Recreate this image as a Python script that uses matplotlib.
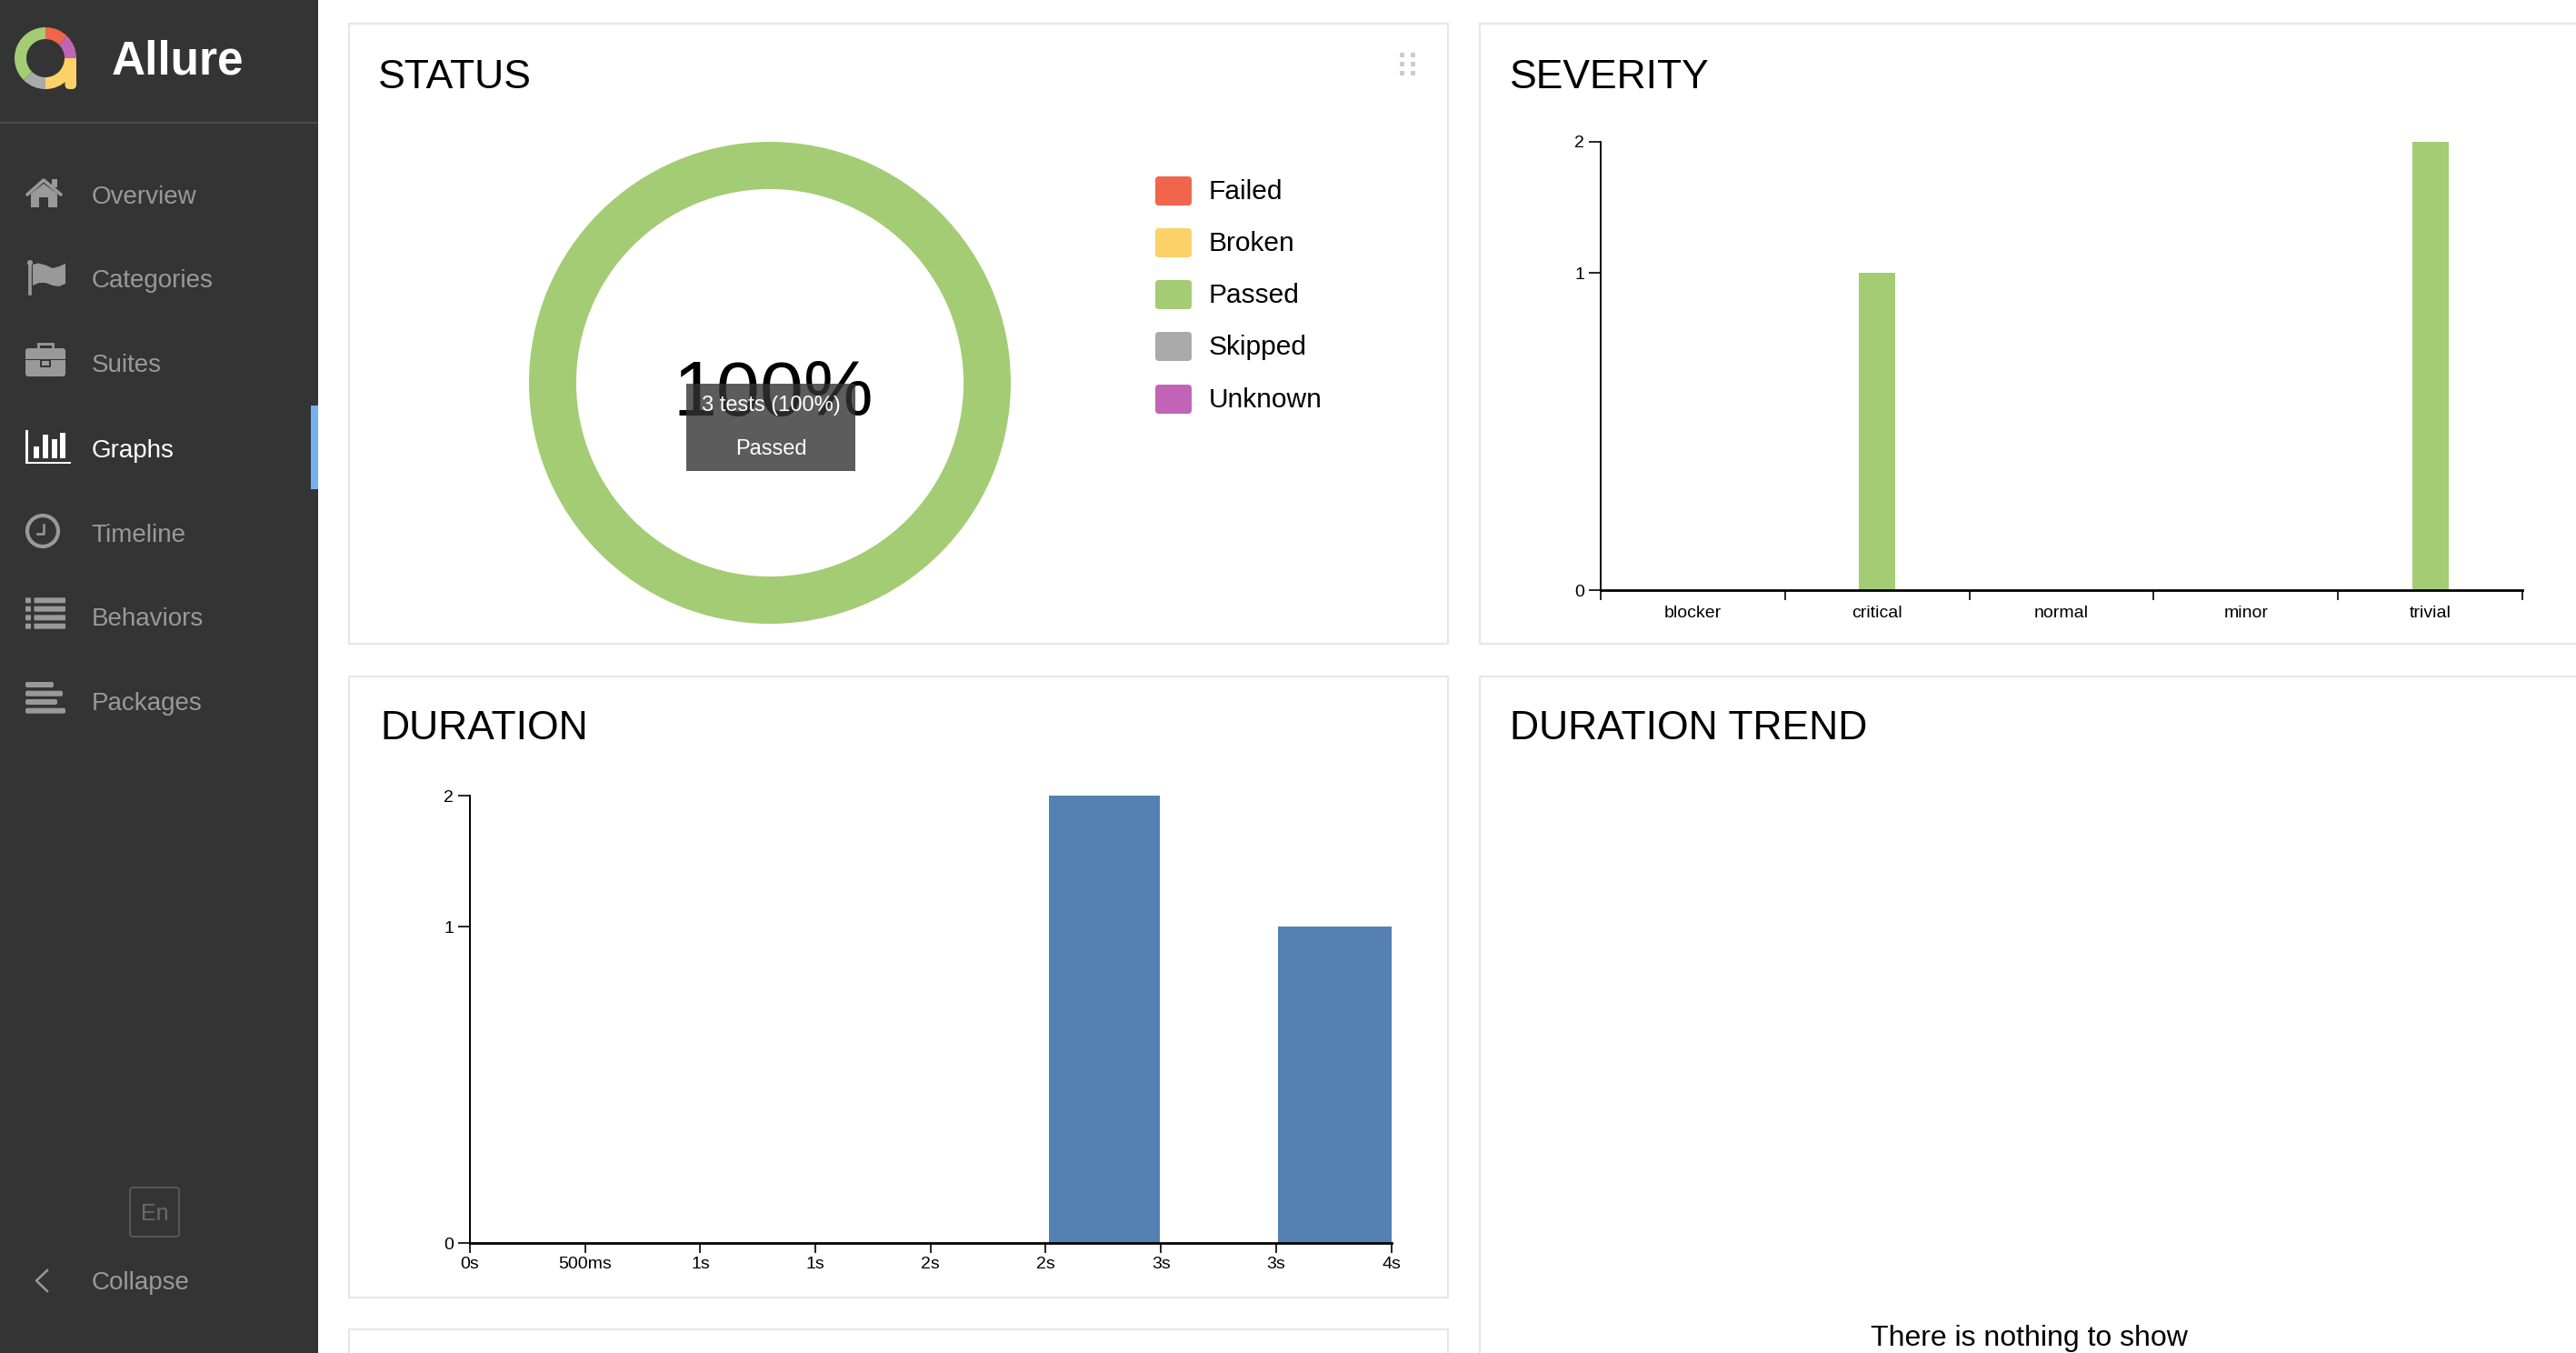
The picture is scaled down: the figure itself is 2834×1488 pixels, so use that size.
import numpy as np
import matplotlib
matplotlib.use('Agg')
import matplotlib.pyplot as plt
from matplotlib.patches import Rectangle, FancyBboxPatch, Wedge, Circle, Polygon

W, H = 2834, 1488

plt.rcParams['font.family'] = ['Liberation Sans', 'DejaVu Sans']

# chart data
status_names = ['Failed', 'Broken', 'Passed', 'Skipped', 'Unknown']
status_colors = ['#f0654b', '#fcd168', '#a3cc74', '#aaaaaa', '#c264b5']
status_counts = [0, 0, 3, 0, 0]

severity_names = ['blocker', 'critical', 'normal', 'minor', 'trivial']
severity_counts = [0, 1, 0, 0, 2]

duration_ticks = [0, 0.5, 1, 1.5, 2, 2.5, 3, 3.5, 4]
duration_labels = ['0s', '500ms', '1s', '1s', '2s', '2s', '3s', '3s', '4s']
duration_left = [2.515, 3.51]
duration_right = [2.996, 4.0]
duration_counts = [2, 1]

count_ticks = [0, 1, 2]

menu_names = ['Overview', 'Categories', 'Suites', 'Graphs', 'Timeline', 'Behaviors', 'Packages']
menu_baselines = [224, 316, 409, 503, 596, 688, 781]

GREY = '#999999'
SIDE = '#343434'
BORDER = '#e6e6e6'

fig = plt.figure(figsize=(W / 100, H / 100), dpi=100, facecolor='white')


def axes_px(x0, y0, x1, y1, **kw):
    return fig.add_axes([x0 / W, 1 - y1 / H, (x1 - x0) / W, (y1 - y0) / H], **kw)


def box(ax, x0, y0, x1, y1, color):
    ax.add_patch(Rectangle((x0, y0), x1 - x0, y1 - y0, facecolor=color, edgecolor='none'))


def rbox(ax, x0, y0, x1, y1, r, color):
    ax.add_patch(FancyBboxPatch((x0 + r, y0 + r), x1 - x0 - 2 * r, y1 - y0 - 2 * r,
                                boxstyle='round,pad=%f,rounding_size=%f' % (r, r),
                                facecolor=color, edgecolor='none'))


# page layer in pixel coordinates
bg = fig.add_axes([0, 0, 1, 1], zorder=0)
bg.set_xlim(0, W)
bg.set_ylim(H, 0)
bg.axis('off')

# sidebar
box(bg, 0, 0, 350, H, SIDE)
box(bg, 0, 134, 350, 136, '#4b4b4b')
box(bg, 342, 446, 350, 538, '#74b1ee')

# logo
logo_segments = [(-90, -45, status_colors[0]), (-45, 0, status_colors[4]), (0, 90, status_colors[1]),
                 (90, 135, status_colors[3]), (135, 270, status_colors[2])]
for a, b, c in logo_segments:
    bg.add_patch(Wedge((50, 64), 34, a, b, width=13, facecolor=c, edgecolor='none'))
rbox(bg, 71.5, 64, 84, 98, 5, status_colors[1])
bg.text(123, 82, 'Allure', color='white', fontsize=37, fontweight='bold', va='baseline')

for name, y in zip(menu_names, menu_baselines):
    bg.text(100.5, y, name, color='white' if name == 'Graphs' else GREY, fontsize=20, va='baseline')

# home icon
bg.plot([30, 48, 67], [214, 198, 214], color=GREY, lw=2.6, solid_capstyle='round')
bg.add_patch(Polygon([(34, 228), (34, 213), (48, 202), (63, 213), (63, 228), (53, 228), (53, 217),
                      (43, 217), (43, 228)], facecolor=GREY, edgecolor='none'))
box(bg, 57, 197, 63, 206, GREY)

# flag icon
bg.plot([33, 33], [289, 323], color=GREY, lw=2.6)
bg.add_patch(Circle((33, 289), 3, facecolor=GREY, edgecolor='none'))
bg.add_patch(Polygon([(36, 291), (42, 289.5), (50, 291.5), (58, 295), (65, 293), (72, 290), (72, 312),
                      (65, 315), (58, 314), (50, 311), (43, 311), (36, 314)], facecolor=GREY, edgecolor='none'))

# briefcase icon
rbox(bg, 28, 383, 72, 414, 3, GREY)
bg.add_patch(Rectangle((42, 378), 16, 7, facecolor='none', edgecolor=GREY, lw=2))
box(bg, 28, 394.5, 72, 396, SIDE)
rbox(bg, 44, 395, 56, 404, 1, SIDE)
box(bg, 46, 397, 54, 402, GREY)

# graphs icon
box(bg, 28, 473, 30.5, 510, 'white')
box(bg, 28, 507.5, 78, 510, 'white')
for x0, y0 in [(37, 491), (47, 478), (57, 483), (66, 476)]:
    box(bg, x0, y0, x0 + 6, 504, 'white')

# clock icon
bg.add_patch(Circle((47, 584), 17, facecolor='none', edgecolor=GREY, lw=3))
bg.plot([48, 48, 41], [577, 587, 587], color=GREY, lw=1.8)

# list icon
for y0 in [657.3, 666.7, 676.3, 685.7]:
    rbox(bg, 28, y0, 34, y0 + 6, 1, GREY)
    rbox(bg, 37.5, y0, 72, y0 + 6, 1, GREY)

# packages icon
for y0, x1 in zip([750, 759.7, 769, 778.7], [59, 69, 63, 72]):
    rbox(bg, 28, y0, x1, y0 + 6, 2, GREY)

# language switch and collapse
bg.add_patch(FancyBboxPatch((146, 1309), 48, 48, boxstyle='round,pad=3,rounding_size=3',
                            facecolor='none', edgecolor='#666666', lw=1))
bg.text(170, 1342, 'En', color='#6a6a6a', fontsize=18, ha='center', va='baseline')
bg.plot([52, 40, 52], [1397, 1408.5, 1420], color=GREY, lw=1.8)
bg.text(100.5, 1418, 'Collapse', color=GREY, fontsize=20, va='baseline')

# cards
cards = [(384, 26, 1593, 708), (1628, 26, 2860, 708), (384, 744, 1593, 1427),
         (1628, 744, 2860, 1520), (384, 1462, 1593, 1520)]
for x0, y0, x1, y1 in cards:
    bg.add_patch(Rectangle((x0, y0), x1 - x0, y1 - y0, facecolor='white', edgecolor=BORDER, lw=1.5))

for title, x, y in [('STATUS', 416, 97), ('SEVERITY', 1661, 97), ('DURATION', 418, 813),
                    ('DURATION TREND', 1661, 813)]:
    bg.text(x, y, title, color='black', fontsize=32, va='baseline')

# drag handle
for dx in [1540, 1552]:
    for dy in [58, 68, 78]:
        box(bg, dx, dy, dx + 5, dy + 5, '#cccccc')

# status legend
for name, c, y0 in zip(status_names, status_colors, [194, 251, 308, 365, 423]):
    rbox(bg, 1271, y0, 1311, y0 + 32, 4, c)
    bg.text(1330, y0 + 25, name, color='black', fontsize=21.5, va='baseline')

bg.text(2232, 1480, 'There is nothing to show', color='black', fontsize=23, ha='center', va='baseline')

# donut
pie_ax = axes_px(847 - 265, 421 - 265, 847 + 265, 421 + 265, zorder=1)
pie_ax.pie(status_counts, colors=status_colors, radius=1, startangle=90,
           wedgeprops={'width': 0.196, 'linewidth': 0})
pie_ax.set_xlim(-1, 1)
pie_ax.set_ylim(-1, 1)


def bar_axes(x0, y0, x1, y1):
    ax = axes_px(x0, y0, x1, y1, zorder=1)
    ax.patch.set_alpha(0)
    ax.set_yscale('function', functions=(lambda v: np.sqrt(np.maximum(v, 0)), np.square))
    ax.set_ylim(0, 2)
    ax.set_yticks(count_ticks)
    ax.set_yticklabels([str(t) for t in count_ticks])
    ax.yaxis.set_minor_locator(matplotlib.ticker.NullLocator())
    ax.spines['top'].set_visible(False)
    ax.spines['right'].set_visible(False)
    ax.spines['left'].set_linewidth(1.4)
    ax.spines['bottom'].set_linewidth(2)
    ax.tick_params(axis='y', length=9.5, width=1.2, labelsize=14, pad=3.5)
    ax.tick_params(axis='x', length=8, width=1.2, labelsize=14, pad=3)
    return ax


# severity chart
sev_ax = bar_axes(1761, 156, 2775, 649)
sev_x = np.arange(len(severity_names))
sev_ax.bar(sev_x, severity_counts, width=0.197, color=status_colors[2], linewidth=0)
sev_ax.set_xlim(-0.5, 4.5)
sev_ax.set_xticks(sev_x)
sev_ax.set_xticklabels(severity_names)
sev_ax.tick_params(axis='x', which='major', length=0, pad=12)
sev_ax.set_xticks(np.arange(-0.5, 5), minor=True)
sev_ax.tick_params(axis='x', which='minor', length=8, width=1.2)

# duration chart
dur_ax = bar_axes(517, 875, 1530.5, 1367)
dur_ax.bar(duration_left, duration_counts, width=np.array(duration_right) - np.array(duration_left),
           align='edge', color='#5480b2', linewidth=0)
dur_ax.set_xlim(duration_ticks[0], duration_ticks[-1])
dur_ax.set_xticks(duration_ticks)
dur_ax.set_xticklabels(duration_labels)

# centre value and tooltip on top
fg = fig.add_axes([0, 0, 1, 1], zorder=5)
fg.patch.set_alpha(0)
fg.set_xlim(0, W)
fg.set_ylim(H, 0)
fg.axis('off')
fg.text(851, 457, '100%', color='black', fontsize=62, ha='center', va='baseline')
fg.add_patch(Rectangle((755, 422), 186, 96, facecolor='#333333', alpha=0.8, edgecolor='none', zorder=3))
fg.text(848, 446, '3 tests (100%)', color='white', fontsize=17, ha='center', va='center', zorder=4)
fg.text(848, 494, 'Passed', color='white', fontsize=17, ha='center', va='center', zorder=4)

fig.savefig('out.png', dpi=100)
